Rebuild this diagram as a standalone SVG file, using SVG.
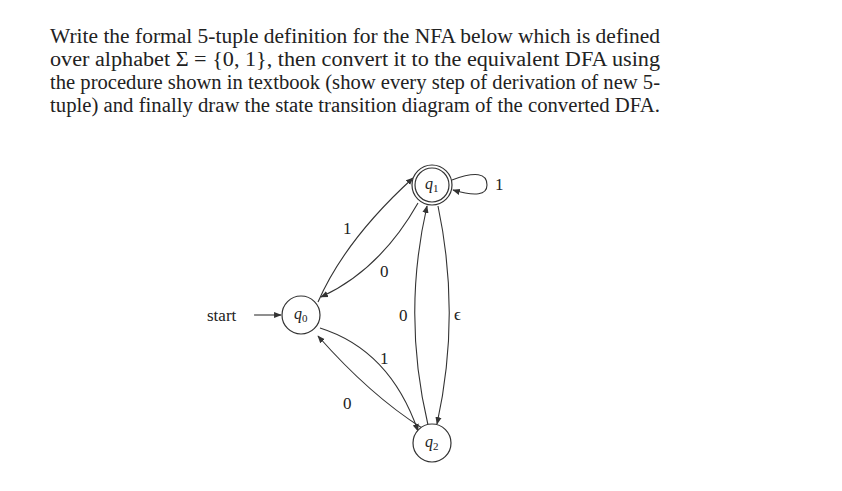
<svg xmlns="http://www.w3.org/2000/svg" width="842" height="491" viewBox="0 0 842 491">
<style>
.t{font-family:"Liberation Serif",serif;font-size:20px;fill:#222}
.l{font-family:"Liberation Serif",serif;font-size:17px;fill:#222}
.q{font-family:"Liberation Serif",serif;font-size:16px;font-style:italic;fill:#222}
.s{font-family:"Liberation Serif",serif;font-size:11px;fill:#222}
.n{fill:#fff;stroke:#333;stroke-width:1.2}
.e{fill:none;stroke:#333;stroke-width:1.1;marker-end:url(#a)}
</style>
<defs><marker id="a" viewBox="0 0 10 10" refX="9" refY="5" markerWidth="7" markerHeight="7" orient="auto"><path d="M0,1 L10,5 L0,9 z" fill="#333"/></marker></defs>
<rect width="842" height="491" fill="#fff"/>
<g id="question">
<text class="t" x="50" y="43" textLength="610" lengthAdjust="spacingAndGlyphs">Write the formal 5-tuple definition for the NFA below which is defined</text>
<text class="t" x="50" y="66" textLength="610" lengthAdjust="spacingAndGlyphs">over alphabet Σ = {0, 1}, then convert it to the equivalent DFA using</text>
<text class="t" x="50" y="89" textLength="610" lengthAdjust="spacingAndGlyphs">the procedure shown in textbook (show every step of derivation of new 5-</text>
<text class="t" x="50" y="112" textLength="610" lengthAdjust="spacingAndGlyphs">tuple) and finally draw the state transition diagram of the converted DFA.</text>
</g>
<g id="connectors">
<path class="e" d="M254,315 L281,315"/>
<path class="e" d="M318,302 Q345,240 413,178"/>
<path class="e" d="M418,203 Q380,270 321,297"/>
<path class="e" d="M320,328 Q390,350 418,431"/>
<path class="e" d="M422,428 Q370,395 318,336"/>
<path class="e" d="M428,425 Q402,315 427,206"/>
<path class="e" d="M438,206 Q461,315 437,424"/>
<path class="e" d="M452,180 Q487,167 487,185 Q487,200 453,190"/>
</g>
<g id="labels">
<text class="l" x="207" y="321">start</text>
<text class="l" x="343" y="234">1</text>
<text class="l" x="380" y="277">0</text>
<text class="l" x="380" y="364">1</text>
<text class="l" x="343" y="409">0</text>
<text class="l" x="399" y="321">0</text>
<text class="l" x="454" y="320" font-size="14">ϵ</text>
<text class="l" x="495" y="190">1</text>
</g>
<g id="q0"><circle class="n" cx="301" cy="315" r="19"/><text class="q" x="294" y="319">q<tspan class="s" font-style="normal" dy="3">0</tspan></text></g>
<g id="q1"><circle class="n" cx="432" cy="185" r="20"/><circle class="n" cx="432" cy="185" r="17" fill="none"/><text class="q" x="425" y="189">q<tspan class="s" font-style="normal" dy="3">1</tspan></text></g>
<g id="q2"><circle class="n" cx="432" cy="443" r="19"/><text class="q" x="425" y="447">q<tspan class="s" font-style="normal" dy="3">2</tspan></text></g>
</svg>
